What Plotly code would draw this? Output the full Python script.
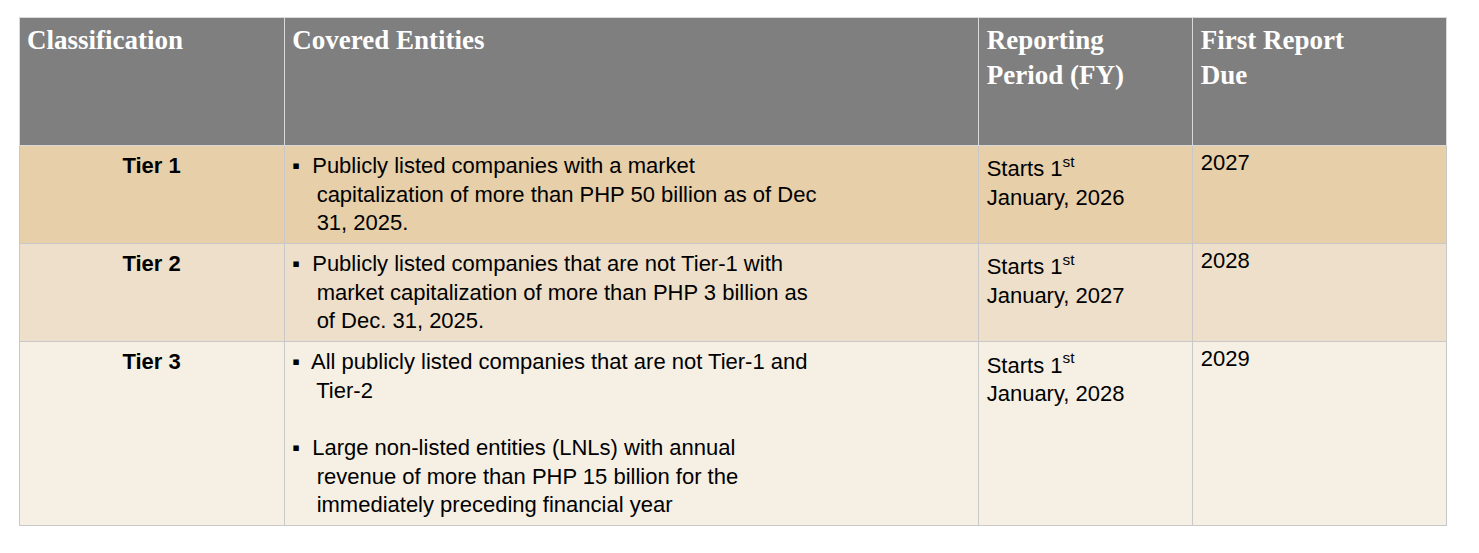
import plotly.graph_objects as go

headers = ["Classification", "Covered Entities", "Reporting<br>Period (FY)", "First Report<br>Due"]
tiers = ["Tier 1", "Tier 2", "Tier 3"]
entities = [
    "▪  Publicly listed companies with a market<br>    capitalization of more than PHP 50 billion as of Dec<br>    31, 2025.",
    "▪  Publicly listed companies that are not Tier-1 with<br>    market capitalization of more than PHP 3 billion as<br>    of Dec. 31, 2025.",
    "▪  All publicly listed companies that are not Tier-1 and<br>    Tier-2<br> <br>▪  Large non-listed entities (LNLs) with annual<br>    revenue of more than PHP 15 billion for the<br>    immediately preceding financial year",
]
periods = ["Starts 1<sup>st</sup><br>January, 2026", "Starts 1<sup>st</sup><br>January, 2027",
           "Starts 1<sup>st</sup><br>January, 2028"]
due = ["2027", "2028", "2029"]
row_colors = ["#e6cfa9", "#eddfc9", "#f5efe4"]

fig = go.Figure(go.Table(
    domain=dict(x=[11 / 1479, 1438 / 1479], y=[0, 1 - 9 / 553]),
    columnwidth=[265, 694, 214, 253],
    header=dict(
        values=["<b>%s</b>" % h for h in headers],
        fill_color="#7f7f7f",
        line_color="#d9d9d9",
        align="left",
        height=128,
        font=dict(family="Liberation Serif, DejaVu Serif", size=27, color="white"),
    ),
    cells=dict(
        values=[["<b>%s</b>" % t for t in tiers], entities, periods, due],
        fill_color=[row_colors] * 4,
        line_color="#c8c8c8",
        align=["center", "left", "left", "left"],
        height=98,
        font=dict(family="Liberation Sans, Arial", size=22, color="black"),
    ),
))
fig.update_layout(width=1479, height=553, margin=dict(l=0, r=0, t=0, b=0),
                  paper_bgcolor="white")
fig.write_html("out.html")
